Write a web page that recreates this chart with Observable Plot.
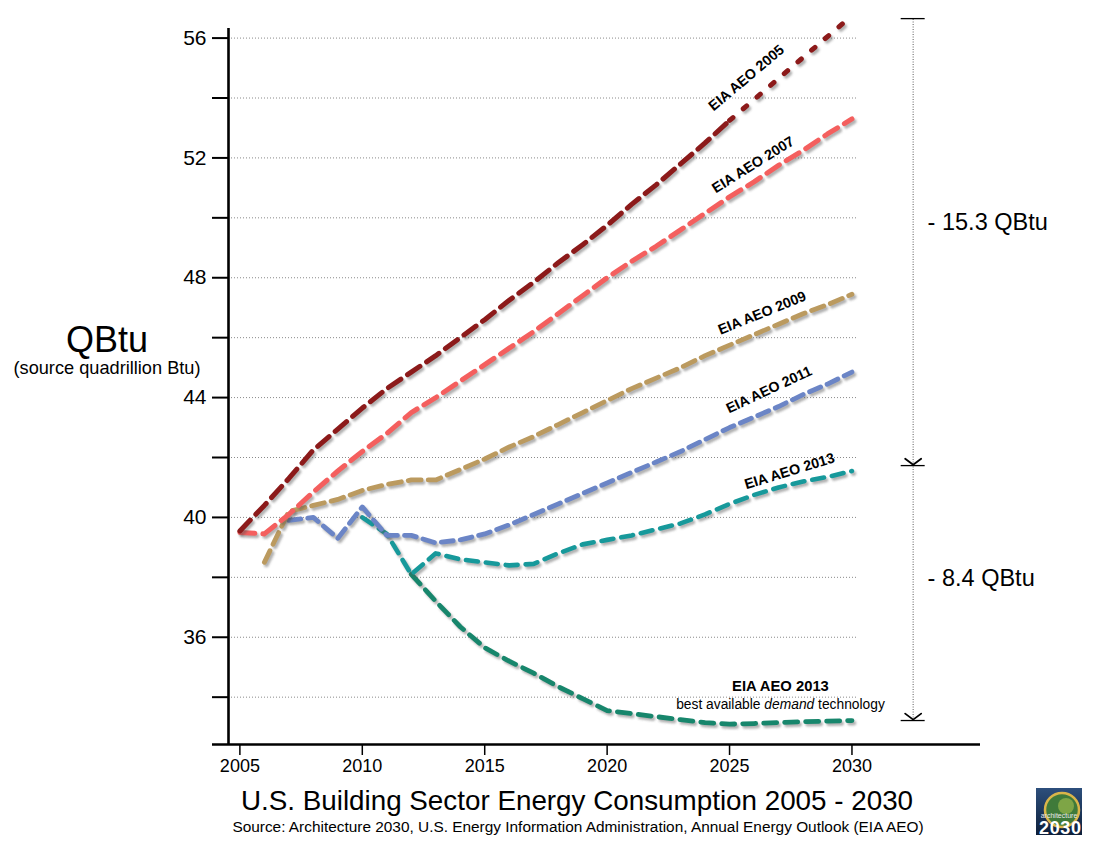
<!DOCTYPE html>
<html><head><meta charset="utf-8">
<script src="https://cdn.jsdelivr.net/npm/d3@7"></script>
<script src="https://cdn.jsdelivr.net/npm/@observablehq/plot@0.6"></script>
<style>
body{margin:0;background:#fff;font-family:"Liberation Sans",Arial,sans-serif;}
#wrap{position:relative;width:1098px;height:859px;overflow:hidden;background:#fff;}
</style></head><body><div id="wrap"></div>
<script>
// ---------- data ----------
const aeo2005Years = [2005,2006,2007,2008,2009,2010,2011,2012,2013,2014,2015,2016,2017,2018,2019,2020,2021,2022,2023,2024,2025];
const aeo2005Values = [39.55,40.4,41.3,42.25,42.95,43.65,44.3,44.85,45.4,46.0,46.6,47.25,47.85,48.5,49.1,49.75,50.45,51.1,51.8,52.5,53.25];
const aeo2005ExtYears = [2025,2030];
const aeo2005ExtValues = [53.25,56.75];

const aeo2007Years = [2005,2006,2007,2008,2009,2010,2011,2012,2013,2014,2015,2016,2017,2018,2019,2020,2021,2022,2023,2024,2025,2026,2027,2028,2029,2030];
const aeo2007Values = [39.5,39.45,40.1,40.85,41.55,42.2,42.8,43.5,44.0,44.55,45.1,45.65,46.2,46.8,47.4,48.0,48.55,49.05,49.6,50.15,50.7,51.2,51.75,52.25,52.8,53.3];

const aeo2009Years = [2006,2007,2008,2009,2010,2011,2012,2013,2014,2015,2016,2017,2018,2019,2020,2021,2022,2023,2024,2025,2026,2027,2028,2029,2030];
const aeo2009Values = [38.5,40.2,40.4,40.6,40.9,41.1,41.25,41.25,41.6,41.95,42.35,42.7,43.1,43.5,43.9,44.3,44.65,45.0,45.4,45.75,46.1,46.45,46.8,47.1,47.45];

const aeo2011Years = [2007,2008,2009,2010,2011,2012,2013,2014,2015,2016,2017,2018,2019,2020,2021,2022,2023,2024,2025,2026,2027,2028,2029,2030];
const aeo2011Values = [39.9,40.0,39.3,40.35,39.4,39.4,39.15,39.25,39.45,39.75,40.1,40.45,40.8,41.15,41.5,41.85,42.2,42.6,43.0,43.35,43.7,44.1,44.45,44.85];

const aeo2013Years = [2010,2011,2012,2013,2014,2015,2016,2017,2018,2019,2020,2021,2022,2023,2024,2025,2026,2027,2028,2029,2030];
const aeo2013Values = [40.0,39.45,38.1,38.8,38.6,38.5,38.4,38.45,38.8,39.1,39.25,39.4,39.6,39.8,40.1,40.45,40.75,41.0,41.2,41.35,41.55];

const bestYears = [2012,2013,2014,2015,2016,2017,2018,2019,2020,2021,2022,2023,2024,2025,2026,2027,2028,2029,2030];
const bestValues = [38.1,37.2,36.35,35.65,35.2,34.8,34.35,33.95,33.55,33.45,33.35,33.25,33.15,33.1,33.12,33.15,33.18,33.2,33.22];

const gridValues = [34,36,38,40,42,44,46,48,50,52,54,56];
const yLabelValues = [36,40,44,48,52,56];
const xTickValues = [2005,2010,2015,2020,2025,2030];

const seriesNames = ["EIA AEO 2005","EIA AEO 2007","EIA AEO 2009","EIA AEO 2011","EIA AEO 2013","best available demand technology"];
const seriesColors = ["#8c1a1a","#f45f5e","#bb9a5f","#6b85c6","#17999b","#17866c"];

const labelTexts = ["EIA AEO 2005","EIA AEO 2007","EIA AEO 2009","EIA AEO 2011","EIA AEO 2013"];
const labelYears = [2025.69,2025.96,2026.33,2026.61,2027.45];
const labelValues = [54.67,51.77,46.82,44.26,41.54];
const labelAngles = [-40,-32,-22,-25,-17];

const bestLabelYear = 2027.08;
const bestLabelValues = [34.36,33.76];

const bracketYear = 2032.5;
const bracketValues = [56.65,41.73,33.22];
const bracketTexts = ["- 15.3 QBtu","- 8.4 QBtu"];
const bracketTextValues = [49.85,37.96];
const bracketTextYear = 2033.09;

// ---------- build tables ----------
const tidy = (name, ys, vs) => ys.map((y,i) => ({series:name, year:y, value:vs[i]}));
const lineSpecs = [
  {data: tidy(seriesNames[5], bestYears, bestValues), color: seriesColors[5], dash:"13,8", w:4.8},
  {data: tidy(seriesNames[4], aeo2013Years, aeo2013Values), color: seriesColors[4], dash:"12,8", w:4.6},
  {data: tidy(seriesNames[3], aeo2011Years, aeo2011Values), color: seriesColors[3], dash:"12,7", w:4.8},
  {data: tidy(seriesNames[2], aeo2009Years, aeo2009Values), color: seriesColors[2], dash:"13,7", w:4.8},
  {data: tidy(seriesNames[1], aeo2007Years, aeo2007Values), color: seriesColors[1], dash:"15,8", w:5},
  {data: tidy(seriesNames[0], aeo2005Years, aeo2005Values), color: seriesColors[0], dash:"15,8", w:5},
  {data: tidy(seriesNames[0]+" ext", aeo2005ExtYears, aeo2005ExtValues), color: seriesColors[0], dash:"4.5,13.5", w:5}
];
const labelRows = labelTexts.map((t,i)=>({text:t, year:labelYears[i], value:labelValues[i], angle:labelAngles[i]}));

const xMin = 2004.535, xMax = 2035.25, yMin = 32.42, yMax = 56.32;
const pxPerYear = (980-228)/(xMax-xMin);
const pxPerUnit = (744-28)/(yMax-yMin);
const chevHalf = 8/pxPerYear, chevRise = 6/pxPerUnit, capHalf = 12/pxPerYear;
const chevRows = [1,2].flatMap(k => [
  {id:k, year:bracketYear-chevHalf, value:bracketValues[k]+chevRise+0.03},
  {id:k, year:bracketYear, value:bracketValues[k]+0.03},
  {id:k, year:bracketYear+chevHalf, value:bracketValues[k]+chevRise+0.03}
]);

const marks = [
  Plot.ruleY(gridValues, {x1:xMin, x2:2030.25, stroke:"#8a8a8a", strokeWidth:1, strokeDasharray:"1,2"}),
  Plot.axisY({ticks:gridValues, tickSize:16, tickPadding:6, fontSize:21, strokeWidth:2, label:null,
              tickFormat: d => yLabelValues.includes(d) ? String(d) : ""}),
  Plot.axisX({ticks:xTickValues, tickSize:11, tickPadding:4, fontSize:18, strokeWidth:1.5, label:null,
              tickFormat: d => String(d)}),
  Plot.ruleX([xMin], {y1:yMin, y2:yMax, stroke:"#000", strokeWidth:2.6}),
  Plot.ruleY([yMin], {x1:xMin - 16/pxPerYear, x2:xMax, stroke:"#000", strokeWidth:2.6})
];
for (const s of lineSpecs) {
  marks.push(Plot.line(s.data, {x:"year", y:"value", stroke:"#555555", strokeOpacity:0.45, strokeWidth:s.w,
    strokeDasharray:s.dash, dx:2, dy:2.5}));
  marks.push(Plot.line(s.data, {x:"year", y:"value", stroke:s.color, strokeWidth:s.w, strokeDasharray:s.dash}));
}
marks.push(
  Plot.text(labelRows, {x:"year", y:"value", text:"text", rotate:"angle", fontSize:14.3, fontWeight:"bold", fill:"#000"}),
  Plot.text(["EIA AEO 2013"], {x:bestLabelYear, y:bestLabelValues[0], text:d=>d, fontSize:14.8, fontWeight:"bold", fill:"#000"}),
  Plot.text(["best available demand technology"], {x:bestLabelYear, y:bestLabelValues[1], text:d=>d, fontSize:13.8, fill:"#000"}),
  Plot.ruleX([bracketYear], {y1:bracketValues[2], y2:bracketValues[0], stroke:"#777", strokeWidth:1.2, strokeDasharray:"1,1.5"}),
  Plot.ruleY(bracketValues, {x1:bracketYear-capHalf, x2:bracketYear+capHalf, stroke:"#000", strokeWidth:1.3}),
  Plot.line(chevRows, {x:"year", y:"value", z:"id", stroke:"#000", strokeWidth:1.8}),
  Plot.text(bracketTexts, {x:bracketTextYear, y:(d,i)=>bracketTextValues[i], text:d=>d, textAnchor:"start", fontSize:23.5, fill:"#000"})
);

const svg = Plot.plot({
  width:1098, height:859,
  marginTop:28, marginBottom:115, marginLeft:228, marginRight:118,
  x:{domain:[xMin,xMax], label:null},
  y:{domain:[yMin,yMax], label:null},
  style:{fontFamily:"'Liberation Sans', Arial, sans-serif", color:"#000", background:"#fff", overflow:"visible"},
  marks
});

// ---------- decorations: shadow filter, italic word, titles, logo ----------
const s = d3.select(svg);
const defs = s.insert("defs", ":first-child");
defs.append("filter").attr("id","shadow").attr("x","-10%").attr("y","-10%").attr("width","120%").attr("height","120%")
  .append("feGaussianBlur").attr("stdDeviation", 1.3);
svg.querySelectorAll('g[stroke="#555555"]').forEach(g => g.setAttribute("filter","url(#shadow)"));

svg.querySelectorAll("text").forEach(t => {
  if (t.textContent === "best available demand technology") {
    t.textContent = "";
    const ns = "http://www.w3.org/2000/svg";
    const parts = [["best available ", null], ["demand", "italic"], [" technology", null]];
    for (const [txt, st] of parts) {
      const sp = document.createElementNS(ns, "tspan");
      sp.textContent = txt;
      if (st) sp.setAttribute("font-style", st);
      t.appendChild(sp);
    }
  }
});

const ff = "'Liberation Sans', Arial, sans-serif";
s.append("text").attr("x",107).attr("y",352).attr("text-anchor","middle").attr("font-size",36).attr("font-family",ff).attr("fill","#000").text("QBtu");
s.append("text").attr("x",107).attr("y",374).attr("text-anchor","middle").attr("font-size",18.2).attr("font-family",ff).attr("fill","#000").text("(source quadrillion Btu)");
s.append("text").attr("x",577).attr("y",810).attr("text-anchor","middle").attr("font-size",27.8).attr("font-family",ff).attr("fill","#000").text("U.S. Building Sector Energy Consumption 2005 - 2030");
s.append("text").attr("x",578).attr("y",832).attr("text-anchor","middle").attr("font-size",15.4).attr("font-family",ff).attr("fill","#000").text("Source: Architecture 2030, U.S. Energy Information Administration, Annual Energy Outlook (EIA AEO)");

// logo
const lg = defs.append("linearGradient").attr("id","logoBg").attr("x1",0).attr("y1",0).attr("x2",0).attr("y2",1);
lg.append("stop").attr("offset","0%").attr("stop-color","#2d4f7c");
lg.append("stop").attr("offset","100%").attr("stop-color","#0d1f3a");
const logo = s.append("g").attr("transform","translate(1036,788)");
logo.append("rect").attr("width",46).attr("height",47).attr("fill","url(#logoBg)");
logo.append("circle").attr("cx",26).attr("cy",22).attr("r",17).attr("fill","#3f7a3a").attr("stroke","#d9b54a").attr("stroke-width",2.5);
logo.append("circle").attr("cx",30).attr("cy",18).attr("r",8).attr("fill","#8fb04a").attr("opacity",0.8);
logo.append("text").attr("x",23).attr("y",30).attr("text-anchor","middle").attr("font-size",7).attr("font-family",ff).attr("fill","#e8e8e8").text("architecture");
logo.append("text").attr("x",24).attr("y",46).attr("text-anchor","middle").attr("font-size",18).attr("font-weight","bold").attr("font-family",ff).attr("fill","#fff").attr("textLength",42).text("2030");

document.getElementById("wrap").appendChild(svg);
</script></body></html>
